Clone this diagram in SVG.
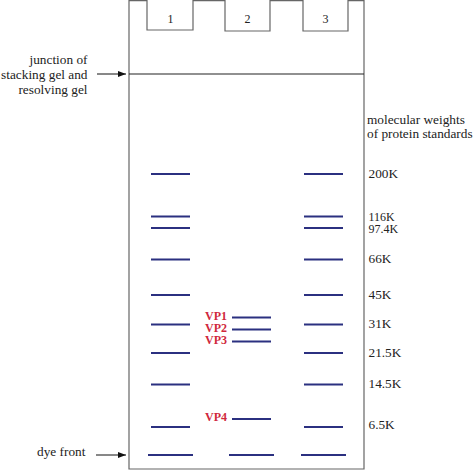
<svg xmlns="http://www.w3.org/2000/svg" width="474" height="470" viewBox="0 0 474 470">
<defs>
<style>
.t{font-family:"Liberation Serif","Times New Roman",serif;font-size:13.3px;fill:#222}
.s{font-size:12px}
.e{text-anchor:end}
.vp{font-family:"Liberation Serif","Times New Roman",serif;font-size:12px;font-weight:bold;fill:#d0283c;text-anchor:end}
.gel{fill:none;stroke:#666;stroke-width:1.2}
.b{stroke:#2b3080;stroke-width:2.2}
.a{stroke:#111;stroke-width:1;fill:none}
</style>
<marker id="ah" markerWidth="8" markerHeight="6" refX="8" refY="3" orient="auto" markerUnits="userSpaceOnUse">
<path d="M0,0 L8,3 L0,6 Z" fill="#111"/>
</marker>
</defs>
<rect width="474" height="470" fill="#fff"/>
<g id="gel">
<path class="gel" d="M129,469 L129,0.6 L147,0.6 L147,30 L193,30 L193,0.6 L225,0.6 L225,31 L270,31 L270,0.6 L303,0.6 L303,31 L348,31 L348,0.6 L364,0.6 L364,469 Z"/>
<line x1="129" y1="74" x2="364" y2="74" stroke="#222" stroke-width="1.2"/>
<text class="t s" x="170.5" y="23" text-anchor="middle">1</text>
<text class="t s" x="247.5" y="23" text-anchor="middle">2</text>
<text class="t s" x="325.5" y="23" text-anchor="middle">3</text>
</g>
<g id="lane1">
<line class="b" x1="151" y1="174" x2="190" y2="174"/>
<line class="b" x1="151" y1="216.5" x2="190" y2="216.5"/>
<line class="b" x1="151" y1="228" x2="190" y2="228"/>
<line class="b" x1="151" y1="259.5" x2="190" y2="259.5"/>
<line class="b" x1="151" y1="295" x2="190" y2="295"/>
<line class="b" x1="151" y1="324.5" x2="190" y2="324.5"/>
<line class="b" x1="151" y1="353" x2="190" y2="353"/>
<line class="b" x1="151" y1="384.5" x2="190" y2="384.5"/>
<line class="b" x1="151" y1="427" x2="190" y2="427"/>
<line class="b" x1="148" y1="455" x2="193" y2="455"/>
</g>
<g id="lane2">
<line class="b" x1="232" y1="317.5" x2="271" y2="317.5"/>
<line class="b" x1="232" y1="329.5" x2="271" y2="329.5"/>
<line class="b" x1="232" y1="341.5" x2="271" y2="341.5"/>
<line class="b" x1="232" y1="419" x2="271" y2="419"/>
<line class="b" x1="229" y1="455" x2="274" y2="455"/>
<text class="vp" x="227" y="320">VP1</text>
<text class="vp" x="227" y="332">VP2</text>
<text class="vp" x="227" y="344">VP3</text>
<text class="vp" x="227" y="421">VP4</text>
</g>
<g id="lane3">
<line class="b" x1="304" y1="174" x2="343" y2="174"/>
<line class="b" x1="304" y1="216.5" x2="343" y2="216.5"/>
<line class="b" x1="304" y1="228" x2="343" y2="228"/>
<line class="b" x1="304" y1="259.5" x2="343" y2="259.5"/>
<line class="b" x1="304" y1="295" x2="343" y2="295"/>
<line class="b" x1="304" y1="324.5" x2="343" y2="324.5"/>
<line class="b" x1="304" y1="353" x2="343" y2="353"/>
<line class="b" x1="304" y1="384.5" x2="343" y2="384.5"/>
<line class="b" x1="304" y1="427" x2="343" y2="427"/>
<line class="b" x1="301" y1="455" x2="346" y2="455"/>
</g>
<g id="labels">
<text class="t" x="367" y="124">molecular weights</text>
<text class="t" x="367" y="138">of protein standards</text>
<text class="t" x="368.5" y="178">200K</text>
<text class="t s" x="368.5" y="220.5">116K</text>
<text class="t s" x="368.5" y="232.5">97.4K</text>
<text class="t" x="368.5" y="263">66K</text>
<text class="t" x="368.5" y="299">45K</text>
<text class="t" x="368.5" y="328">31K</text>
<text class="t" x="368.5" y="357">21.5K</text>
<text class="t" x="368.5" y="388">14.5K</text>
<text class="t" x="368.5" y="429">6.5K</text>
<text class="t e" x="87.5" y="64">junction of</text>
<text class="t e" x="87.5" y="79">stacking gel and</text>
<text class="t e" x="87.5" y="94">resolving gel</text>
<text class="t" x="37" y="456">dye front</text>
</g>
<g id="connectors">
<line class="a" x1="97" y1="74" x2="126" y2="74" marker-end="url(#ah)"/>
<line class="a" x1="96" y1="455" x2="126" y2="455" marker-end="url(#ah)"/>
</g>
</svg>
